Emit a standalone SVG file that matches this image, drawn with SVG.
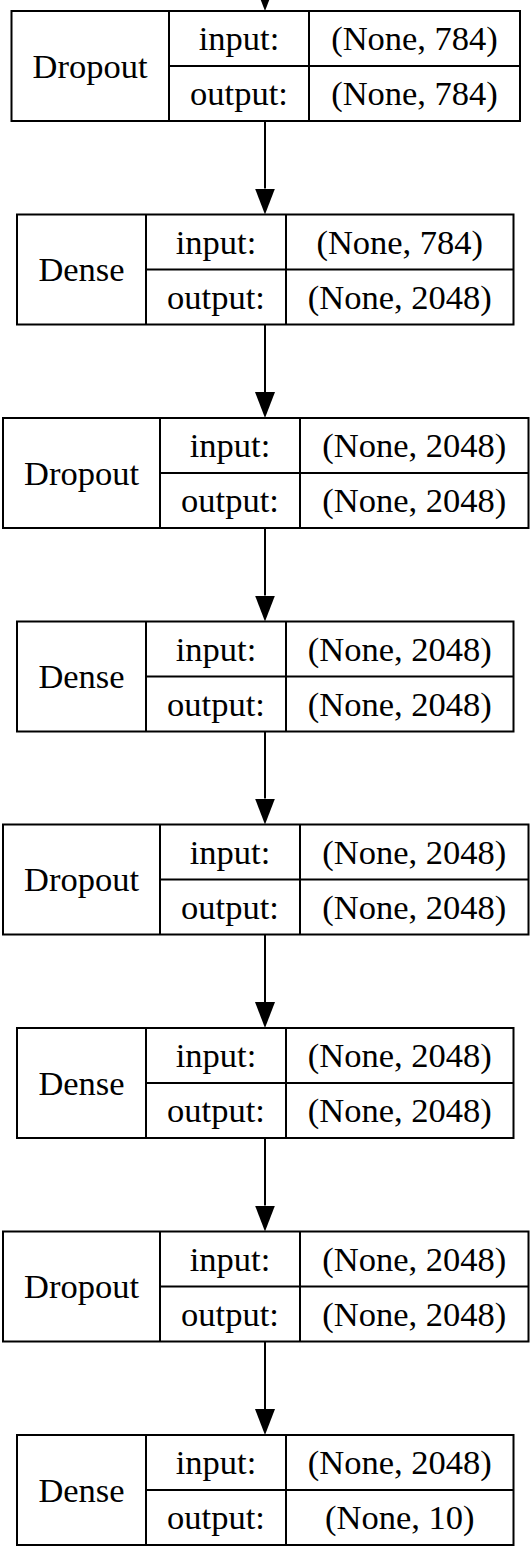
<svg xmlns="http://www.w3.org/2000/svg" width="531" height="1548" viewBox="0 0 531 1548">
<style>
.box{fill:#fff;stroke:#000;stroke-width:2}
.ln{stroke:#000;stroke-width:2;fill:none}
.t{font-family:"Liberation Serif","Times New Roman",serif;font-size:34.5px;fill:#000;text-anchor:middle}
.edge{stroke:#000;stroke-width:2;fill:none;marker-end:url(#ah)}
</style>
<defs>
<marker id="ah" markerUnits="userSpaceOnUse" markerWidth="26" markerHeight="20" viewBox="0 0 26 20" refX="0" refY="10" orient="auto">
<path d="M0,0 L26,10 L0,20 Z" fill="#000"/>
</marker>
</defs>
<rect width="531" height="1548" fill="#fff"/>
<g id="connectors">
<line class="edge" x1="265" y1="-30" x2="265" y2="-15"/>
<line class="edge" x1="265" y1="121" x2="265" y2="188.5"/>
<line class="edge" x1="265" y1="324.5" x2="265" y2="392"/>
<line class="edge" x1="265" y1="528" x2="265" y2="595.5"/>
<line class="edge" x1="265" y1="731.5" x2="265" y2="798.5"/>
<line class="edge" x1="265" y1="934.5" x2="265" y2="1002"/>
<line class="edge" x1="265" y1="1138" x2="265" y2="1205.5"/>
<line class="edge" x1="265" y1="1341.5" x2="265" y2="1409"/>
</g>
<g id="node0">
<rect class="box" x="11.5" y="11" width="508.5" height="110"/>
<line class="ln" x1="169" y1="11" x2="169" y2="121"/>
<line class="ln" x1="309" y1="11" x2="309" y2="121"/>
<line class="ln" x1="169" y1="66" x2="520" y2="66"/>
<text class="t" x="90" y="77.5">Dropout</text>
<text class="t" x="239" y="50">input:</text>
<text class="t" x="239" y="105">output:</text>
<text class="t" x="414.5" y="50">(None, 784)</text>
<text class="t" x="414.5" y="105">(None, 784)</text>
</g>
<g id="node1">
<rect class="box" x="17" y="214.5" width="496.5" height="110"/>
<line class="ln" x1="146" y1="214.5" x2="146" y2="324.5"/>
<line class="ln" x1="286" y1="214.5" x2="286" y2="324.5"/>
<line class="ln" x1="146" y1="269.5" x2="513.5" y2="269.5"/>
<text class="t" x="81.5" y="281">Dense</text>
<text class="t" x="216" y="253.5">input:</text>
<text class="t" x="216" y="308.5">output:</text>
<text class="t" x="399.75" y="253.5">(None, 784)</text>
<text class="t" x="399.75" y="308.5">(None, 2048)</text>
</g>
<g id="node2">
<rect class="box" x="3" y="418" width="525.5" height="110"/>
<line class="ln" x1="160" y1="418" x2="160" y2="528"/>
<line class="ln" x1="300" y1="418" x2="300" y2="528"/>
<line class="ln" x1="160" y1="473" x2="528.5" y2="473"/>
<text class="t" x="81.5" y="484.5">Dropout</text>
<text class="t" x="230" y="457">input:</text>
<text class="t" x="230" y="512">output:</text>
<text class="t" x="414.25" y="457">(None, 2048)</text>
<text class="t" x="414.25" y="512">(None, 2048)</text>
</g>
<g id="node3">
<rect class="box" x="17" y="621.5" width="496.5" height="110"/>
<line class="ln" x1="146" y1="621.5" x2="146" y2="731.5"/>
<line class="ln" x1="286" y1="621.5" x2="286" y2="731.5"/>
<line class="ln" x1="146" y1="676.5" x2="513.5" y2="676.5"/>
<text class="t" x="81.5" y="688">Dense</text>
<text class="t" x="216" y="660.5">input:</text>
<text class="t" x="216" y="715.5">output:</text>
<text class="t" x="399.75" y="660.5">(None, 2048)</text>
<text class="t" x="399.75" y="715.5">(None, 2048)</text>
</g>
<g id="node4">
<rect class="box" x="3" y="824.5" width="525.5" height="110"/>
<line class="ln" x1="160" y1="824.5" x2="160" y2="934.5"/>
<line class="ln" x1="300" y1="824.5" x2="300" y2="934.5"/>
<line class="ln" x1="160" y1="879.5" x2="528.5" y2="879.5"/>
<text class="t" x="81.5" y="891">Dropout</text>
<text class="t" x="230" y="863.5">input:</text>
<text class="t" x="230" y="918.5">output:</text>
<text class="t" x="414.25" y="863.5">(None, 2048)</text>
<text class="t" x="414.25" y="918.5">(None, 2048)</text>
</g>
<g id="node5">
<rect class="box" x="17" y="1028" width="496.5" height="110"/>
<line class="ln" x1="146" y1="1028" x2="146" y2="1138"/>
<line class="ln" x1="286" y1="1028" x2="286" y2="1138"/>
<line class="ln" x1="146" y1="1083" x2="513.5" y2="1083"/>
<text class="t" x="81.5" y="1094.5">Dense</text>
<text class="t" x="216" y="1067">input:</text>
<text class="t" x="216" y="1122">output:</text>
<text class="t" x="399.75" y="1067">(None, 2048)</text>
<text class="t" x="399.75" y="1122">(None, 2048)</text>
</g>
<g id="node6">
<rect class="box" x="3" y="1231.5" width="525.5" height="110"/>
<line class="ln" x1="160" y1="1231.5" x2="160" y2="1341.5"/>
<line class="ln" x1="300" y1="1231.5" x2="300" y2="1341.5"/>
<line class="ln" x1="160" y1="1286.5" x2="528.5" y2="1286.5"/>
<text class="t" x="81.5" y="1298">Dropout</text>
<text class="t" x="230" y="1270.5">input:</text>
<text class="t" x="230" y="1325.5">output:</text>
<text class="t" x="414.25" y="1270.5">(None, 2048)</text>
<text class="t" x="414.25" y="1325.5">(None, 2048)</text>
</g>
<g id="node7">
<rect class="box" x="17" y="1435" width="496.5" height="110"/>
<line class="ln" x1="146" y1="1435" x2="146" y2="1545"/>
<line class="ln" x1="286" y1="1435" x2="286" y2="1545"/>
<line class="ln" x1="146" y1="1490" x2="513.5" y2="1490"/>
<text class="t" x="81.5" y="1501.5">Dense</text>
<text class="t" x="216" y="1474">input:</text>
<text class="t" x="216" y="1529">output:</text>
<text class="t" x="399.75" y="1474">(None, 2048)</text>
<text class="t" x="399.75" y="1529">(None, 10)</text>
</g>
</svg>
